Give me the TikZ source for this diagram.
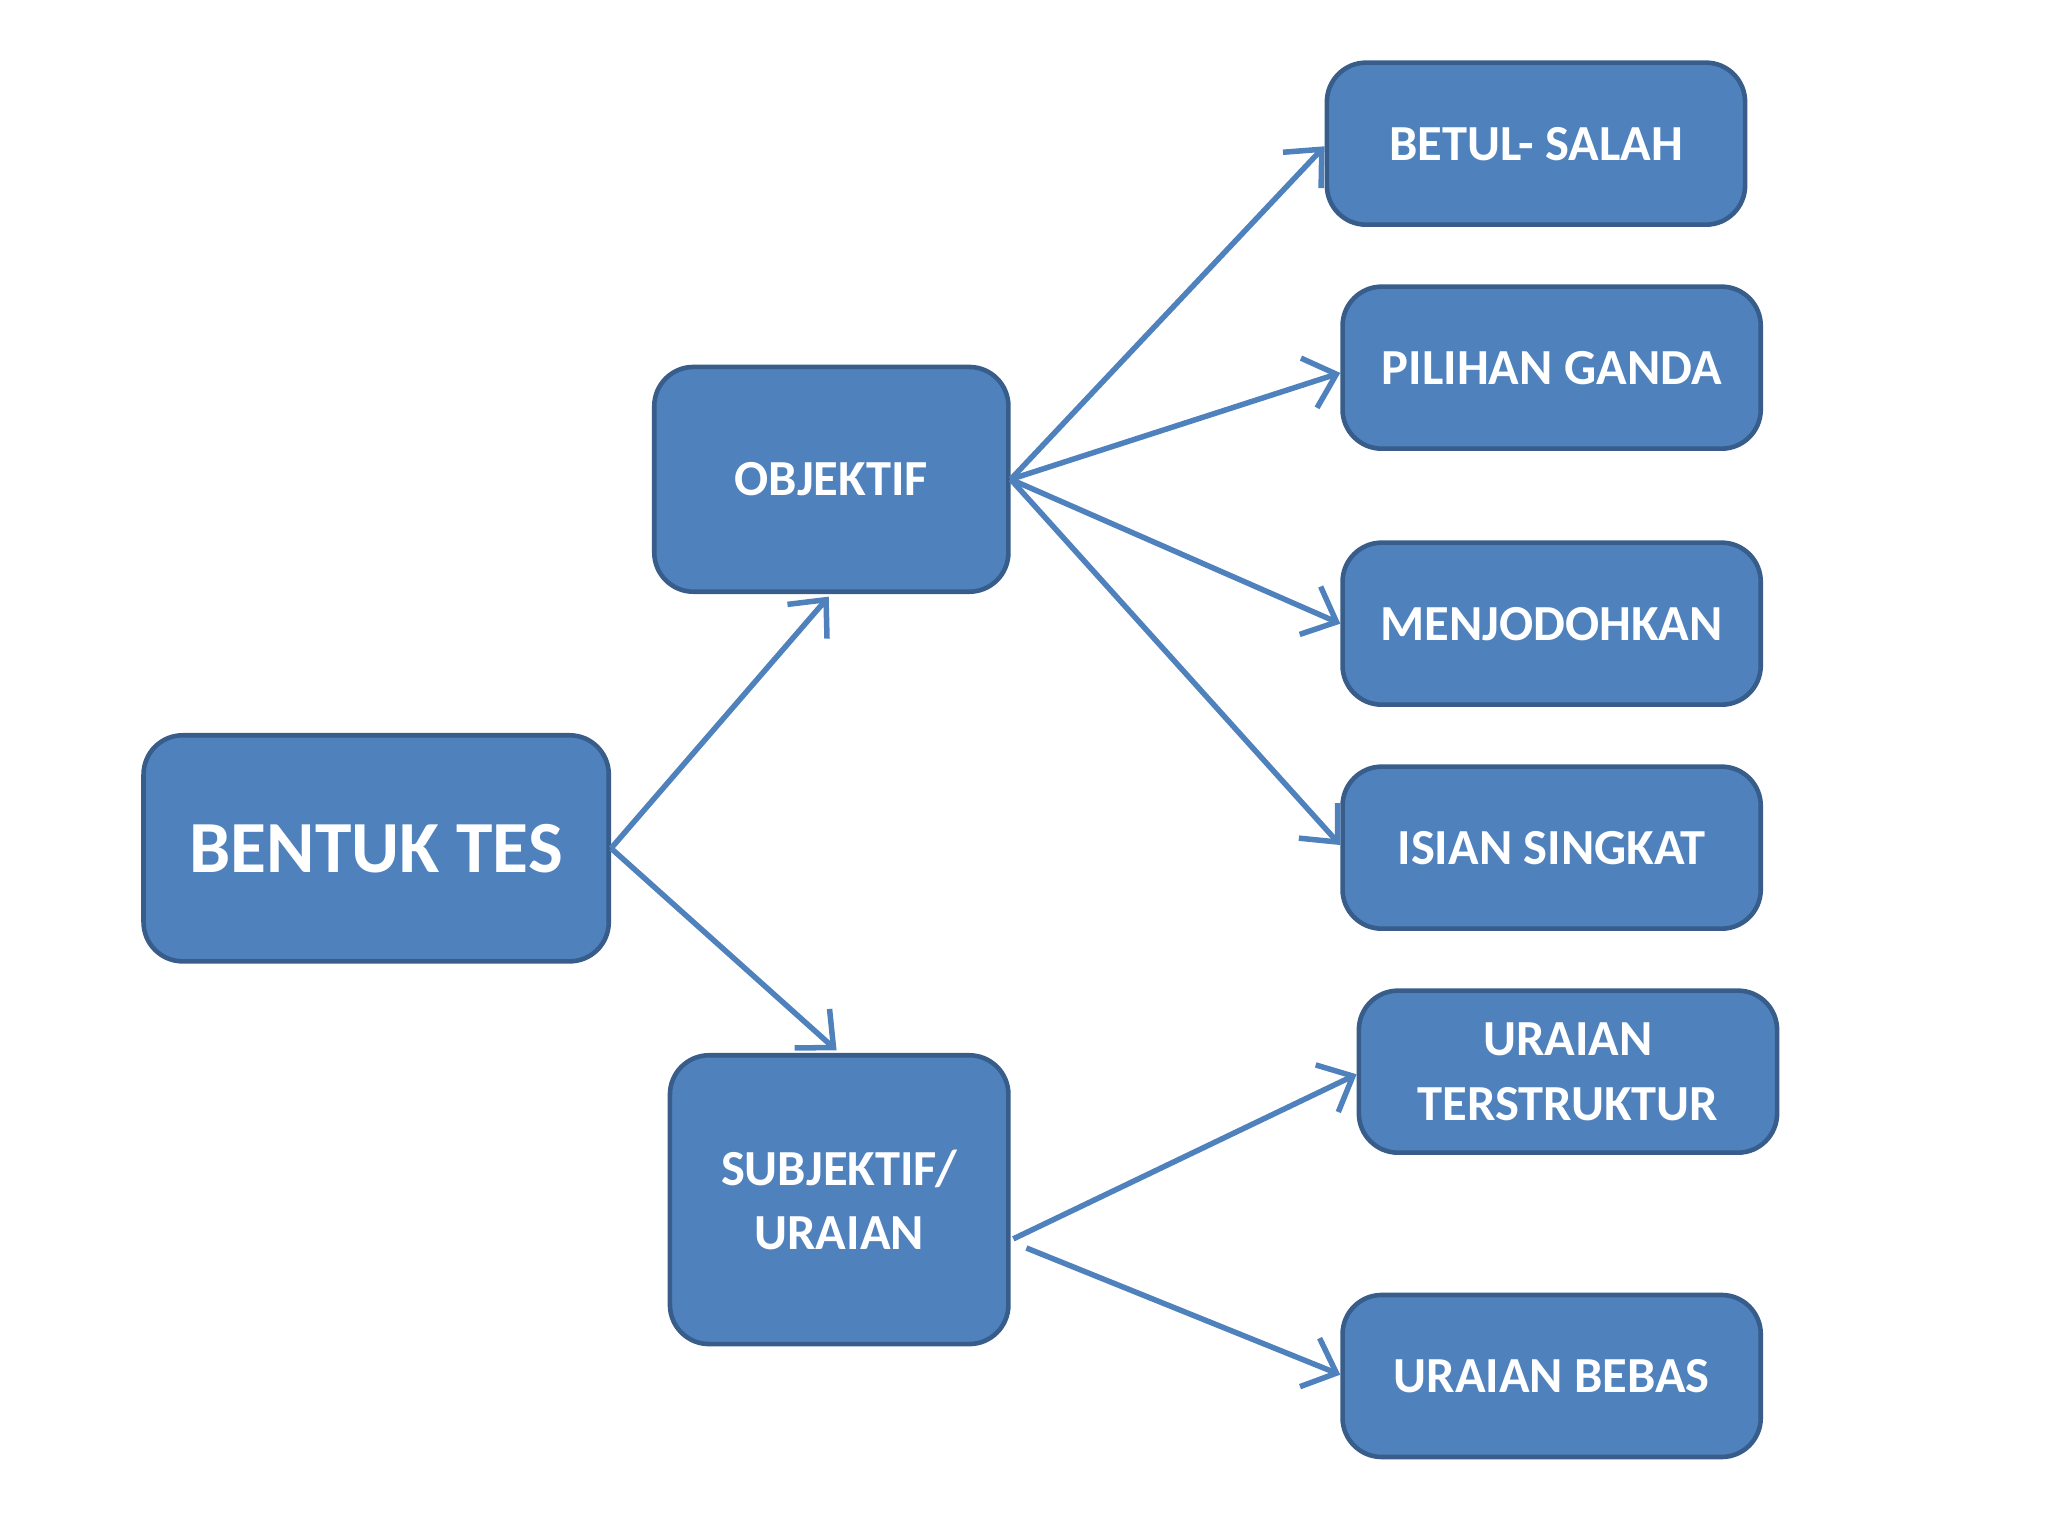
\documentclass[tikz,border=0pt]{standalone}
\usepackage{fontspec}
\setmainfont{Carlito}
\usetikzlibrary{arrows.meta}
\definecolor{boxfill}{HTML}{4F81BD}
\definecolor{boxline}{HTML}{385D8A}
\begin{document}
\begin{tikzpicture}[x=0.01cm,y=-0.01cm,
  box/.style={draw=boxline,line width=1pt,fill=boxfill,rounded corners=0.3cm,
    text=white,font=\bfseries\fontsize{11pt}{14pt}\selectfont,align=center,inner sep=0pt},
  conn/.style={draw=boxfill,line width=1.2pt,-{Straight Barb[length=0.22cm,width=0.4cm,line width=1.2pt]}}]
\useasboundingbox (0,0) rectangle (1568,1176);
\node[box,minimum width=3.56cm,minimum height=1.73cm,font=\bfseries\fontsize{16pt}{19pt}\selectfont] (bt) at (288,649.5) {BENTUK TES};
\node[box,minimum width=2.71cm,minimum height=1.72cm] (obj) at (636.5,367) {OBJEKTIF};
\node[box,minimum width=2.59cm,minimum height=2.21cm] (sub) at (642.5,918.5) {SUBJEKTIF/\\URAIAN};
\node[box,minimum width=3.2cm,minimum height=1.24cm] (bs) at (1176,110) {BETUL- SALAH};
\node[box,minimum width=3.2cm,minimum height=1.24cm] (pg) at (1188,281.5) {PILIHAN GANDA};
\node[box,minimum width=3.2cm,minimum height=1.24cm] (mj) at (1188,477.5) {MENJODOHKAN};
\node[box,minimum width=3.2cm,minimum height=1.24cm] (is) at (1188,649) {ISIAN SINGKAT};
\node[box,minimum width=3.2cm,minimum height=1.24cm] (ut) at (1200.5,820.5) {URAIAN\\TERSTRUKTUR};
\node[box,minimum width=3.2cm,minimum height=1.24cm] (ub) at (1188,1053.5) {URAIAN BEBAS};
\draw[conn] (bt.east) -- ([xshift=-0.02cm,yshift=-0.02cm]obj.south);
\draw[conn] (bt.east) -- ([xshift=-0.02cm,yshift=0.02cm]sub.north);
\draw[conn] (obj.east) -- ([yshift=-0.02cm]bs.west);
\draw[conn] (obj.east) -- ([yshift=-0.04cm]pg.west);
\draw[conn] (obj.east) -- (mj.west);
\draw[conn] (obj.east) -- ([yshift=0.02cm]is.west);
\draw[conn] ([shift={(2,30)}]sub.east) -- ([yshift=-0.02cm]ut.west);
\draw[conn] ([shift={(12,37)}]sub.east) -- ([yshift=0.01cm]ub.west);
\end{tikzpicture}
\end{document}
